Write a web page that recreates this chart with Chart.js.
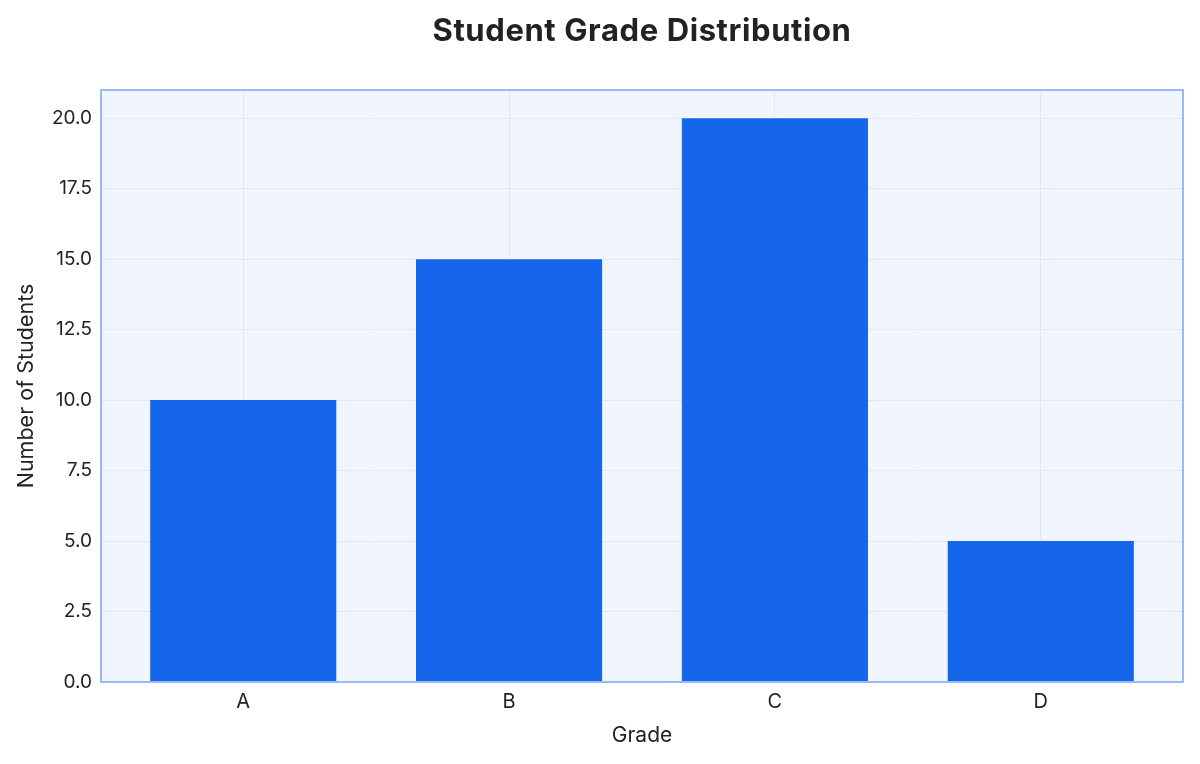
<!DOCTYPE html>
<html>
<head>
<meta charset="utf-8">
<script src="https://cdn.jsdelivr.net/npm/chart.js@4/dist/chart.umd.min.js"></script>
<style>
  html, body { margin: 0; padding: 0; background: #ffffff; }
  #wrap { width: 1200px; height: 764px; }
</style>
</head>
<body>
<div id="wrap"><canvas id="c" width="1200" height="764"></canvas></div>
<script>
const categories = ['A', 'B', 'C', 'D'];
const studentCounts = [10, 15, 20, 5];
const yTicks = [0, 2.5, 5, 7.5, 10, 12.5, 15, 17.5, 20];
const chartTitle = 'Student Grade Distribution';

const FONT = 'Inter, "Noto Sans", sans-serif';

const plotDecor = {
  id: 'plotDecor',
  beforeDraw(chart) {
    const {ctx, chartArea: a} = chart;
    ctx.save();
    ctx.fillStyle = '#f1f6fe';
    ctx.fillRect(a.left, a.top, a.right - a.left, a.bottom - a.top);
    ctx.restore();
  },
  afterDraw(chart) {
    const {ctx, chartArea: a} = chart;
    ctx.save();
    ctx.strokeStyle = '#97bbf6';
    ctx.lineWidth = 2;
    ctx.strokeRect(a.left, a.top, a.right - a.left, a.bottom - a.top);
    ctx.fillStyle = '#222222';
    ctx.font = 'bold 31px ' + FONT;
    ctx.textAlign = 'center';
    ctx.textBaseline = 'middle';
    try { ctx.letterSpacing = '0.6px'; } catch (e) {}
    ctx.fillText(chartTitle, (a.left + a.right) / 2, 32);
    ctx.restore();
  }
};

new Chart(document.getElementById('c'), {
  type: 'bar',
  data: {
    datasets: [{
      label: 'Students',
      data: categories.map((c, i) => ({x: i, y: studentCounts[i]})),
      backgroundColor: '#1666eb',
      borderWidth: 0,
      barPercentage: 0.7,
      categoryPercentage: 1.0
    }]
  },
  options: {
    responsive: false,
    animation: false,
    devicePixelRatio: 1,
    layout: { padding: { left: 0, right: 17, top: 90, bottom: 0 } },
    plugins: {
      legend: { display: false },
      tooltip: { enabled: false },
      title: { display: false }
    },
    scales: {
      x: {
        type: 'linear',
        min: -0.535,
        max: 3.535,
        offset: false,
        afterBuildTicks(scale) {
          scale.ticks = categories.map((c, i) => ({value: i}));
        },
        afterFit(scale) { scale.height = 82; },
        ticks: {
          color: '#222222',
          font: { family: FONT, size: 20 },
          padding: 8,
          callback: (v) => categories[v] !== undefined ? categories[v] : ''
        },
        grid: { color: '#dfe7f9', lineWidth: 1, drawTicks: false, offset: false },
        border: { display: false },
        title: {
          display: true,
          text: 'Grade',
          color: '#222222',
          font: { family: FONT, size: 21, lineHeight: 1.2 },
          padding: { top: 0, bottom: 16 }
        }
      },
      y: {
        min: 0,
        max: 21,
        afterBuildTicks(scale) {
          scale.ticks = yTicks.map(v => ({value: v}));
        },
        afterFit(scale) { scale.width = 101; },
        ticks: {
          color: '#222222',
          font: { family: FONT, size: 19 },
          padding: 9,
          callback: (v) => Number(v).toFixed(1)
        },
        grid: { color: '#dfe7f9', lineWidth: 1, drawTicks: false },
        border: { display: false },
        title: {
          display: true,
          text: 'Number of Students',
          color: '#222222',
          font: { family: FONT, size: 21.5, lineHeight: 1.2 },
          padding: { top: 14, bottom: 0 }
        }
      }
    }
  },
  plugins: [plotDecor]
});
</script>
</body>
</html>
